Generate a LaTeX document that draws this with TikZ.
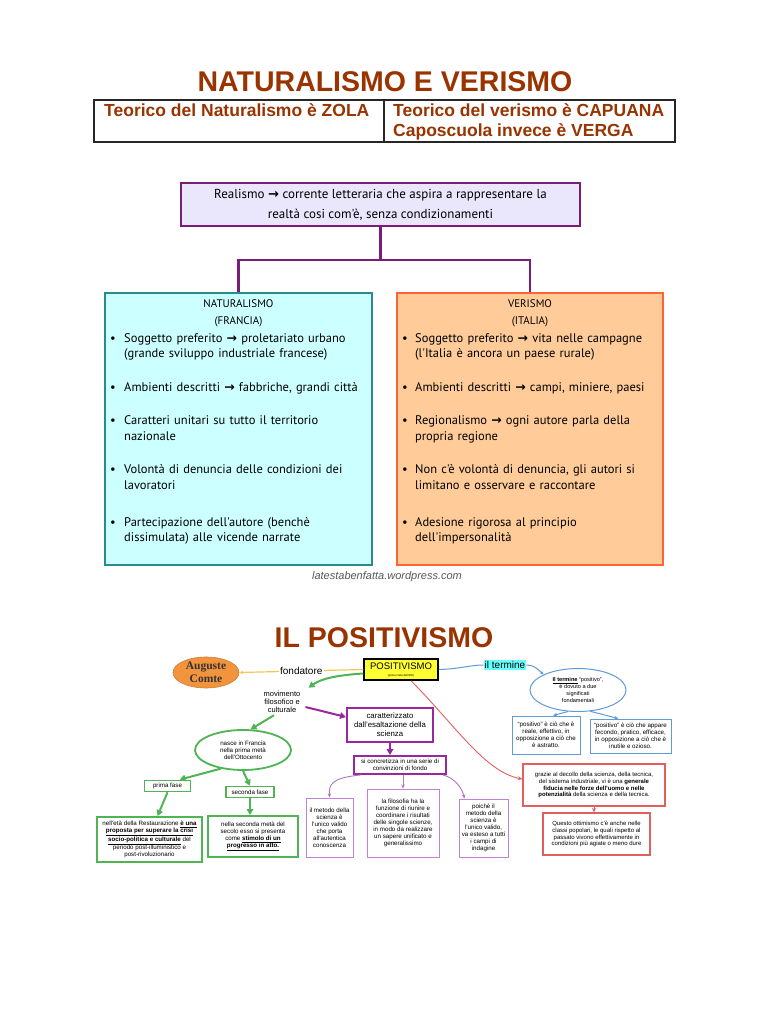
\documentclass[tikz,border=0pt]{standalone}
\usepackage{fontspec}
\setmainfont{Liberation Sans}
\newfontfamily\ptfont{PT Sans}
\newfontfamily\arrfont{DejaVu Sans}
\newfontfamily\serfont{Liberation Serif}
\usetikzlibrary{shapes.geometric,arrows.meta,calc}
\definecolor{brn}{RGB}{153,51,0}
\definecolor{purp}{RGB}{120,30,120}
\definecolor{lav}{RGB}{234,230,252}
\definecolor{cyanf}{RGB}{204,255,255}
\definecolor{tealb}{RGB}{40,140,140}
\definecolor{peach}{RGB}{255,204,153}
\definecolor{orb}{RGB}{255,100,50}
\definecolor{ggreen}{RGB}{80,180,85}
\definecolor{ppl}{RGB}{150,40,160}
\definecolor{lppl}{RGB}{195,130,215}
\definecolor{bblue}{RGB}{95,155,215}
\definecolor{rred}{RGB}{225,95,95}
\definecolor{oran}{RGB}{242,148,62}
\definecolor{ylw}{RGB}{255,255,51}
\definecolor{ylin}{RGB}{240,200,90}
\definecolor{cyl}{RGB}{100,255,255}
\newcommand{\rarr}{{\arrfont\bfseries →}}
\tikzset{
 ttl/.style={font=\fontsize{28.5}{32}\selectfont\bfseries, text=brn, inner sep=0},
 cell/.style={draw=black!85, line width=1.2, minimum height=42pt, inner sep=0},
 tt/.style={font=\fontsize{17.5}{20}\selectfont\bfseries, text=brn, inner sep=0, anchor=base west},
 pline/.style={draw=purp, line width=2.2},
 realbox/.style={draw=purp, fill=lav, line width=2.5, minimum width=399pt, minimum height=43pt, align=center, inner sep=0, font=\ptfont\fontsize{13}{20}\selectfont},
 natbox/.style={draw=tealb, fill=cyanf, line width=2.5, minimum width=267pt, minimum height=272pt, inner sep=0},
 verbox/.style={draw=orb, fill=peach, line width=2.5, minimum width=266pt, minimum height=272pt, inner sep=0},
 hdr/.style={anchor=base, inner sep=0, font=\ptfont\fontsize{11}{13}\selectfont},
 bitem/.style={anchor=base west, text width=245pt, align=left, inner sep=0, font=\ptfont\fontsize{12.5}{15.5}\selectfont},
 bull/.style={anchor=base, inner sep=0, font=\ptfont\fontsize{12.5}{15.5}\selectfont},
 wm/.style={inner sep=0, text=black!65, font=\itshape\fontsize{11}{13}\selectfont},
 small/.style={font=\fontsize{6.2}{7}\selectfont},
 garr/.style={draw=ggreen, line width=2, -{Triangle[length=6pt,width=6.5pt]}},
 parr/.style={draw=ppl, line width=2, -{Triangle[length=6pt,width=6.5pt]}},
 larr/.style={draw=lppl!90!black, line width=0.9, -{Stealth[length=4pt,width=3.5pt]}},
 bline/.style={draw=bblue, line width=1},
 barr/.style={draw=bblue, line width=1, -{Stealth[length=4pt,width=3.5pt]}},
 rarrow/.style={draw=rred, line width=0.9, -{Stealth[length=4.5pt,width=4pt]}},
 gbox/.style={draw=ggreen, line width=1.6, align=center, inner sep=0, small},
 pbox/.style={draw=ppl, line width=2, align=center, inner sep=0},
 lbox/.style={draw=lppl, line width=1, align=center, inner sep=0, small},
 bbox/.style={draw=bblue, line width=1, align=center, inner sep=0, small},
 rbox/.style={draw=rred, line width=1.2, align=center, inner sep=0, font=\fontsize{6}{6.9}\selectfont},
}
\begin{document}
\begin{tikzpicture}[x=1pt,y=-1pt]
\useasboundingbox (0,0) rectangle (768,1024);
\fill[white] (0,0) rectangle (768,1024);

% ---------- Title and table
\node[ttl] (t1) at (385,82) {NATURALISMO E VERISMO};
\node[cell, minimum width=290pt] (c1) at (239,121) {};
\node[cell, minimum width=291pt] (c2) at (529.5,121) {};
\node[tt] (z1) at (104,116.5) {Teorico del Naturalismo è ZOLA};
\node[tt] (z2) at (393,116.5) {Teorico del verismo è CAPUANA};
\node[tt] (z3) at (393,137) {Caposcuola invece è VERGA};

% ---------- Realismo
\node[realbox] (real) at (380.5,204.5) {Realismo \rarr{} corrente letteraria che aspira a rappresentare la\\realtà cosi com'è, senza condizionamenti};

\node[natbox] (nat) at (238.5,429) {};
\node[verbox] (ver) at (530,429) {};
\coordinate (jl) at (238.5,260);
\coordinate (jr) at (530,260);
\draw[pline] (real.south) -- (real.south |- jl);
\draw[pline] (nat.north) -- (jl) -- (jr) -- (ver.north);

% Naturalismo
\node[hdr] (nh1) at (238.5,307) {NATURALISMO};
\node[hdr] (nh2) at (238.5,324) {(FRANCIA)};
\node[bull] (nb1) at (113,342) {•};
\node[bitem] (ni1) at (124,342) {Soggetto preferito \rarr{} proletariato urbano\\(grande sviluppo industriale francese)};
\node[bull] (nb2) at (113,391) {•};
\node[bitem] (ni2) at (124,391) {Ambienti descritti \rarr{} fabbriche, grandi città};
\node[bull] (nb3) at (113,424.5) {•};
\node[bitem] (ni3) at (124,424.5) {Caratteri unitari su tutto il territorio\\nazionale};
\node[bull] (nb4) at (113,473.5) {•};
\node[bitem] (ni4) at (124,473.5) {Volontà di denuncia delle condizioni dei\\lavoratori};
\node[bull] (nb5) at (113,526) {•};
\node[bitem] (ni5) at (124,526) {Partecipazione dell'autore (benchè\\dissimulata) alle vicende narrate};

% Verismo
\node[hdr] (vh1) at (530,307) {VERISMO};
\node[hdr] (vh2) at (530,324) {(ITALIA)};
\node[bull] (vb1) at (405,342) {•};
\node[bitem] (vi1) at (415,342) {Soggetto preferito \rarr{} vita nelle campagne\\(l'Italia è ancora un paese rurale)};
\node[bull] (vb2) at (405,391) {•};
\node[bitem] (vi2) at (415,391) {Ambienti descritti \rarr{} campi, miniere, paesi};
\node[bull] (vb3) at (405,424.5) {•};
\node[bitem] (vi3) at (415,424.5) {Regionalismo \rarr{} ogni autore parla della\\propria regione};
\node[bull] (vb4) at (405,473.5) {•};
\node[bitem] (vi4) at (415,473.5) {Non c'è volontà di denuncia, gli autori si\\limitano e osservare e raccontare};
\node[bull] (vb5) at (405,526) {•};
\node[bitem] (vi5) at (415,526) {Adesione rigorosa al principio\\dell'impersonalità};

\node[wm] (wmk) at (387,577) {latestabenfatta.wordpress.com};

% ---------- Positivismo
\node[ttl] (t2) at (384,638) {IL POSITIVISMO};

\node[ellipse, fill=oran, draw=oran!85!black, line width=0.6, minimum width=66pt, minimum height=31pt, inner sep=0, align=center, text=black!80, font=\serfont\bfseries\fontsize{11.5}{12.5}\selectfont] (comte) at (206,672.5) {Auguste\\Comte};

\node[draw=black, line width=1.5, fill=ylw, minimum width=74pt, minimum height=21pt, inner sep=0] (pos) at (401,669.5) {};
\node[inner sep=0, font=\fontsize{9.5}{10}\selectfont] (posl) at (401,666.5) {POSITIVISMO};
\node[inner sep=0, font=\fontsize{2.8}{3}\selectfont] (poss) at (401,676) {(prima metà dell'800)};

\draw[draw=ylin, line width=1.2, -{Stealth[length=4pt,width=3.5pt]}] (pos.west) -- node[fill=white, inner sep=1.5, font=\fontsize{10}{12}\selectfont] (fond) {fondatore} (comte.east);

% il termine
\node[fill=cyl, inner sep=1, font=\fontsize{10}{12}\selectfont] (term) at (505,665) {il termine};
\node[ellipse, draw=bblue, line width=1, minimum width=96pt, minimum height=43pt, inner sep=0, align=center, font=\fontsize{5.6}{6.7}\selectfont] (te) at (578,690) {\underline{\textbf{Il termine}} “positivo”,\\è dovuto a due\\significati\\fondamentali};
\draw[bline] (pos.east) .. controls (460,669) and (470,665) .. (term.west);
\draw[barr] (term.east) .. controls (534,666) .. (te.north west);
\node[bbox, minimum width=68pt, minimum height=38pt] (b1) at (546,735) {“positivo” è ciò che è\\reale, effettivo, in\\opposizione a ciò che\\è astratto.};
\node[bbox, minimum width=81pt, minimum height=34pt] (b2) at (630.5,736) {“positivo” è ciò che appare\\fecondo, pratico, efficace,\\in opposizione a ciò che è\\inutile e ozioso.};
\draw[barr] (te.245) -- (b1.70);
\draw[barr] (te.300) -- (b2.125);

% movimento
\node[inner sep=0, align=center, font=\fontsize{7.5}{8.3}\selectfont] (mov) at (282,702) {movimento\\filosofico e\\culturale};
\draw[garr] ($(pos.west)+(0,4)$) .. controls (340,675) and (322,678) .. ($(mov.north east)+(8,-3)$);

% caratterizzato
\node[pbox, minimum width=86pt, minimum height=34pt, font=\fontsize{7.8}{9}\selectfont] (car) at (390,725) {caratterizzato\\dall'esaltazione della\\scienza};
\draw[parr] ($(mov.east)+(5,5)$) -- ($(car.west)+(0,-8)$);
\node[pbox, line width=1.8, minimum width=92pt, minimum height=18pt, small] (si) at (400,765) {si concretizza in una serie di\\convinzioni di fondo};
\draw[parr] (car.south) -- (car.south |- si.north);

% green branch
\node[ellipse, draw=ggreen, line width=1.8, minimum width=96pt, minimum height=40pt, inner sep=0, align=center, small] (nas) at (243,750) {nasce in Francia\\nella prima metà\\dell'Ottocento};
\draw[garr] ($(mov.south)+(-8,2)$) -- (nas.70);
\node[gbox, minimum width=46pt, minimum height=11pt] (pf) at (167.5,786) {prima fase};
\node[gbox, minimum width=48pt, minimum height=11pt] (sf) at (250,792) {seconda fase};
\draw[garr] (nas.220) -- ($(pf.north)+(12,0)$);
\draw[garr] (nas.south) -- (sf.north);
\node[gbox, line width=1.8, minimum width=105pt, minimum height=45pt] (pb) at (149.5,839.5) {nell'età della Restaurazione \textbf{\underline{è una}}\\\textbf{\underline{proposta per superare la crisi}}\\\textbf{\underline{socio-politica e culturale}} del\\periodo post-illuministico e\\post-rivoluzionario};
\node[gbox, line width=1.8, minimum width=90pt, minimum height=41pt] (sb) at (253,836.5) {nella seconda metà del\\secolo esso si presenta\\come \textbf{\underline{stimolo di un}}\\\textbf{\underline{progresso in atto.}}};
\draw[garr] (pf.south) -- ($(pb.north)+(8,0)$);
\draw[garr] (sf.south) -- (sf.south |- sb.north);

% light purple boxes
\node[lbox, minimum width=47pt, minimum height=59pt] (la) at (329.5,827.5) {il metodo della\\scienza è\\l'unico valido\\che porta\\all'autentica\\conoscenza};
\node[lbox, minimum width=72pt, minimum height=68pt] (lb) at (403,823) {la filosofia ha la\\funzione di riunire e\\coordinare i risultati\\delle singole scienze,\\in modo da realizzare\\un sapere unificato e\\generalissimo};
\node[lbox, minimum width=49pt, minimum height=58pt] (lc) at (483.5,828) {poichè il\\metodo della\\scienza è\\l'unico valido,\\va esteso a tutti\\i campi di\\indagine};
\draw[larr] ($(si.south west)+(8,0)$) .. controls (330,778) and (329,785) .. (la.north);
\draw[larr] (lb.north |- si.south) -- (lb.north);
\draw[larr] ($(si.south east)+(-4,0)$) .. controls (455,778) and (462,788) .. ($(lc.north west)+(6,0)$);

% red branch
\node[rbox, minimum width=142pt, minimum height=42pt] (grz) at (594,785) {grazie al decollo della scienza, della tecnica,\\del sistema industriale, vi è una \textbf{generale}\\\textbf{fiducia nelle forze dell'uomo e nelle}\\\textbf{potenzialità} della scienza e della tecnica.};
\node[rbox, minimum width=107pt, minimum height=42pt] (ott) at (596.5,834) {Questo ottimismo c'è anche nelle\\classi popolari, le quali rispetto al\\passato vivono effettivamente in\\condizioni più agiate o meno dure};
\draw[rarrow] ($(pos.south)+(10,0)$) .. controls (455,725) and (485,772) .. ($(grz.west)+(0,-6)$);
\draw[rarrow] (grz.south) -- (grz.south |- ott.north);
\end{tikzpicture}
\end{document}
